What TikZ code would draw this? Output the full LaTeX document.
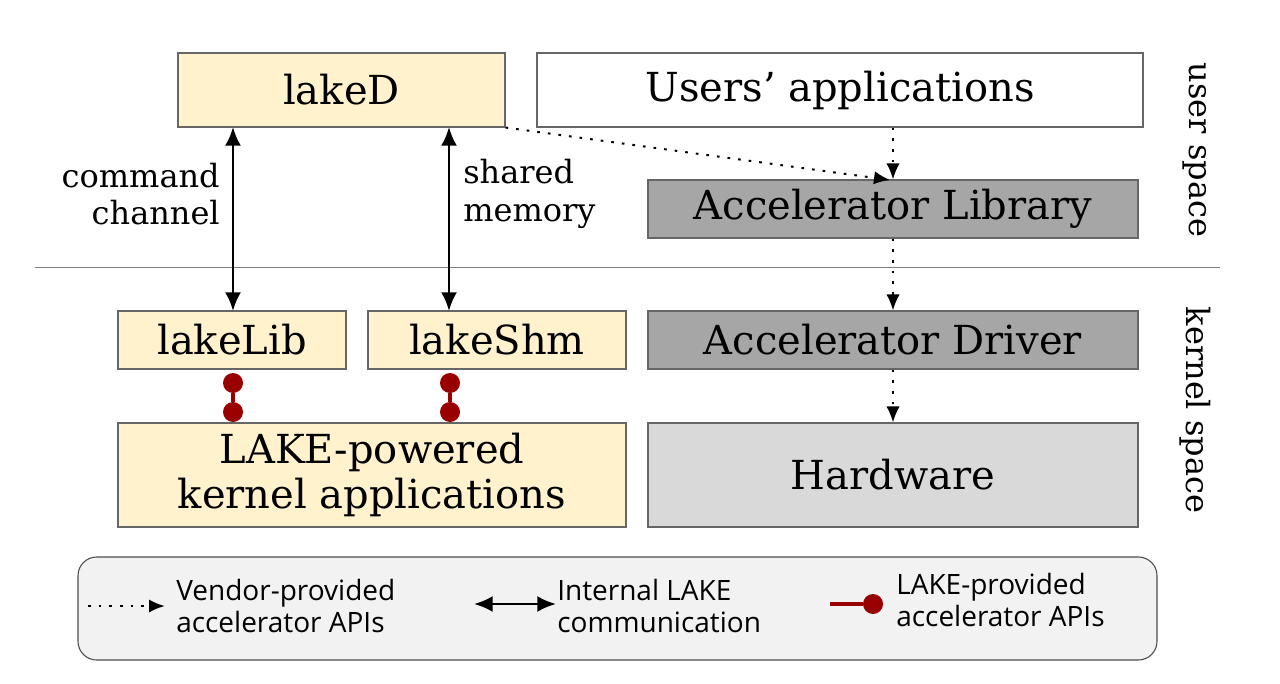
\documentclass[tikz,border=0pt]{standalone}
\usepackage{fontspec}
\setmainfont{DejaVu Serif}
\newfontfamily\legf{Open Sans}
\usetikzlibrary{arrows.meta}
\definecolor{ylw}{HTML}{FFF2CC}
\definecolor{dg}{HTML}{A6A6A6}
\definecolor{lg}{HTML}{D9D9D9}
\definecolor{red}{HTML}{990000}
\begin{document}
\begin{tikzpicture}[x=0.75pt,y=-0.75pt,
 box/.style={draw=black!60,line width=0.8pt,inner sep=0pt,font=\fontsize{30}{34}\selectfont,align=center},
 lbl/.style={font=\fontsize{24}{28}\selectfont,inner sep=0pt},
 leg/.style={font=\legf\fontsize{21}{24}\selectfont,align=left,anchor=west,inner sep=0pt},
 dbl/.style={{Latex[length=14pt,width=12pt]}-{Latex[length=14pt,width=12pt]},line width=2pt},
 dot/.style={-{Latex[length=12pt,width=10pt]},line width=1.5pt,dash pattern=on 2pt off 6pt},
 api/.style={red,line width=2.5pt},
 ball/.style={circle,fill=red,minimum size=15pt,inner sep=0pt}]
\useasboundingbox (0,0) rectangle (1280,684);
\node[box,fill=ylw,minimum width=327*0.75pt,minimum height=74*0.75pt] (lakeD) at (341.5,90) {lakeD};
\node[box,fill=white,minimum width=606*0.75pt,minimum height=74*0.75pt] (users) at (840,90) {Users' applications};
\node[box,fill=dg,minimum width=490*0.75pt,minimum height=58*0.75pt] (lib) at (893,209) {Accelerator Library};
\node[box,fill=ylw,minimum width=228*0.75pt,minimum height=58*0.75pt] (lakeLib) at (232,340) {lakeLib};
\node[box,fill=ylw,minimum width=258*0.75pt,minimum height=58*0.75pt] (lakeShm) at (497,340) {lakeShm};
\node[box,fill=dg,minimum width=490*0.75pt,minimum height=58*0.75pt] (drv) at (893,340) {Accelerator Driver};
\node[box,fill=ylw,minimum width=508*0.75pt,minimum height=104*0.75pt] (kapp) at (372,475) {LAKE-powered\\kernel applications};
\node[box,fill=lg,minimum width=490*0.75pt,minimum height=104*0.75pt] (hw) at (893,475) {Hardware};
\draw[black!50,line width=0.5pt] (35,267) -- (1220,267);
\node[lbl,rotate=-90] (us) at (1195,150) {user space};
\node[lbl,rotate=-90] (ks) at (1195,410) {kernel space};
\coordinate (a1) at (233,127); \coordinate (a2) at (233,311);
\coordinate (b1) at (449,127); \coordinate (b2) at (449,311);
\draw[dbl] (a1) -- (a2);
\draw[dbl] (b1) -- (b2);
\node[lbl,align=right,anchor=east] (cc) at (220,194) {command\\channel};
\node[lbl,align=left,anchor=west] (sm) at (463,194) {shared\\memory};
\draw[dot] (lakeD.south east) -- (890,180);
\draw[dot] (users.south -| lib.north) -- (lib.north);
\draw[dot] (lib.south) -- (drv.north);
\draw[dot] (drv.south) -- (hw.north);
\foreach \x/\n in {233/l,450/s}{
 \node[ball] (t\n) at (\x,383) {};
 \node[ball] (u\n) at (\x,412) {};
 \draw[api] (t\n) -- (u\n);
}
\node[draw=black!70,line width=0.8pt,fill=black!5,rounded corners=14pt,minimum width=1079*0.75pt,minimum height=103*0.75pt] (legend) at (617.5,608.5) {};
\coordinate (l1) at (88,606); \coordinate (l2) at (165,606);
\draw[dot,line width=2pt] (l1) -- (l2);
\node[leg] (t1) at (176,606) {Vendor-provided\\accelerator APIs};
\coordinate (m1) at (474,604); \coordinate (m2) at (556,604);
\draw[dbl] (m1) -- (m2);
\node[leg] (t2) at (557,606) {Internal LAKE\\communication};
\coordinate (n1) at (830,604);
\node[ball] (n2) at (873,604) {};
\draw[api] (n1) -- (n2);
\node[leg] (t3) at (896,600) {LAKE-provided\\accelerator APIs};
\end{tikzpicture}
\end{document}
